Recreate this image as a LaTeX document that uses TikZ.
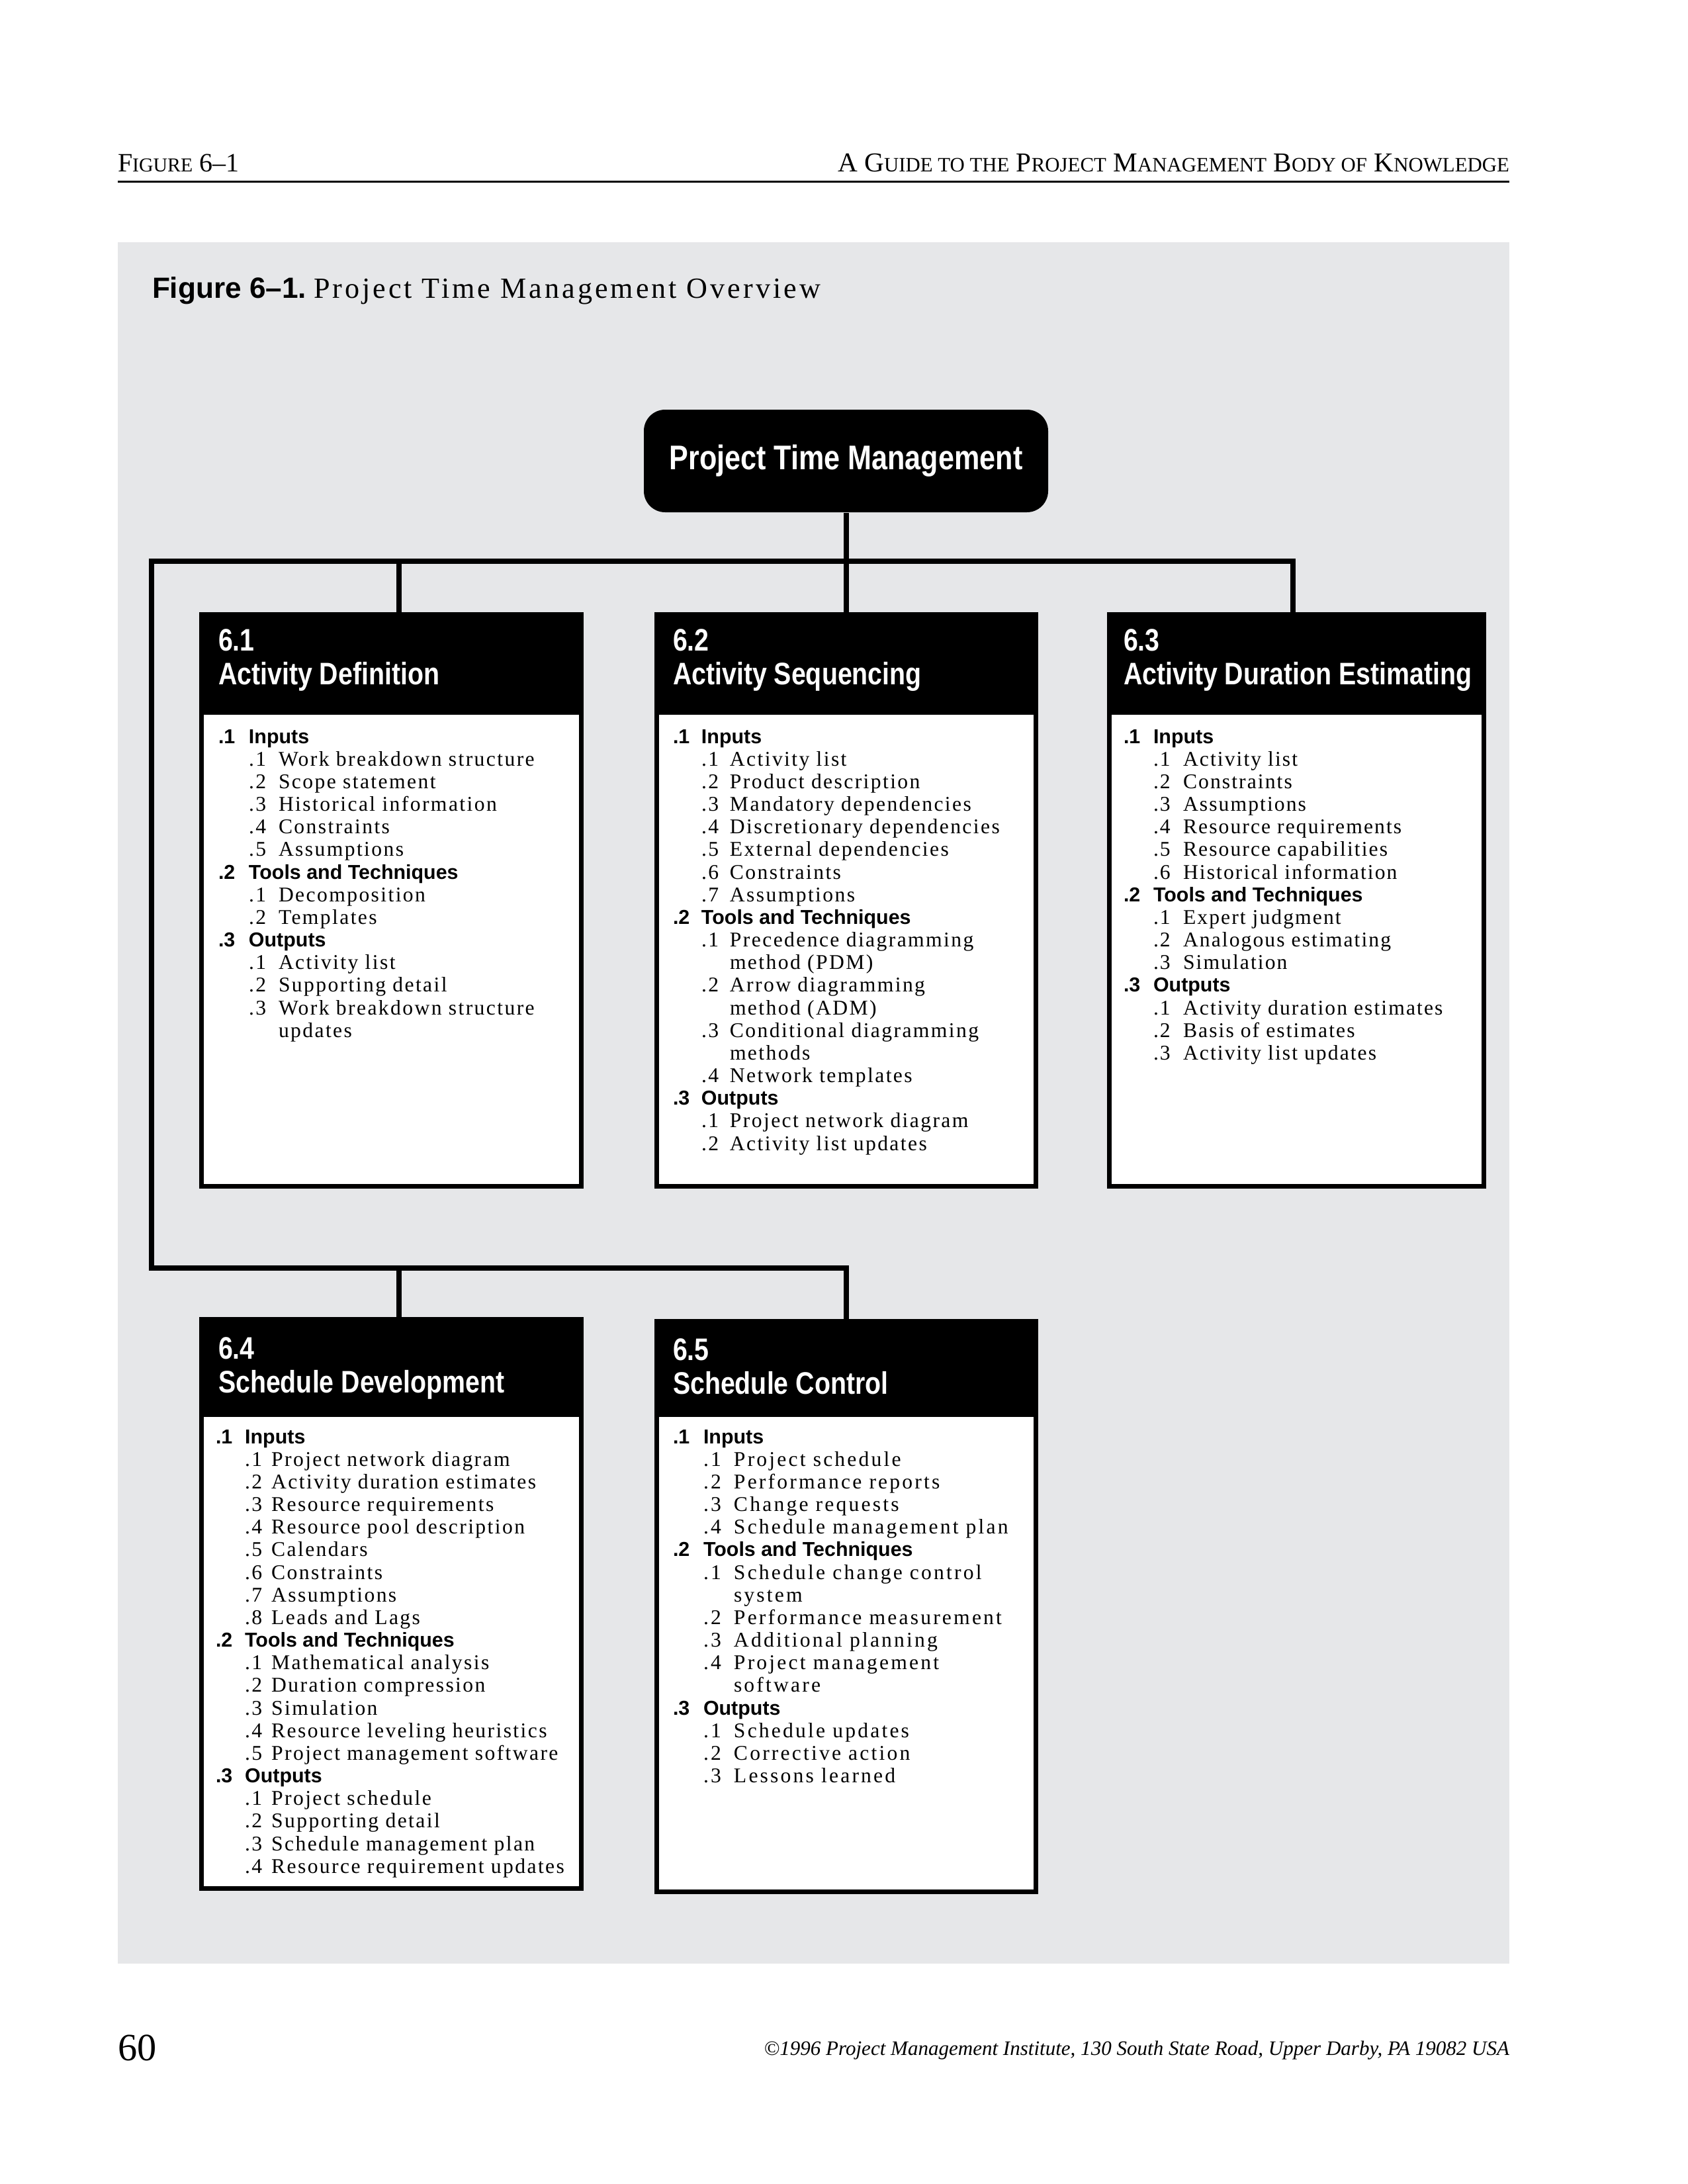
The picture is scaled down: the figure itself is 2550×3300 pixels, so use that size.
\documentclass[tikz,border=0pt]{standalone}
\usepackage{fontspec}
\setmainfont{Liberation Serif}
\setsansfont{Liberation Sans}
\newfontfamily\bodyfont[LetterSpace=7.5]{Liberation Serif}
\newfontfamily\widefont[LetterSpace=10]{Liberation Serif}
\newfontfamily\tightfont[LetterSpace=6.5]{Liberation Serif}
\newfontfamily\capfont[LetterSpace=9]{Liberation Serif}
\newfontfamily\condfont[FakeStretch=0.835]{Liberation Sans}
\definecolor{panel}{RGB}{230,231,233}
\newlength\offA \newlength\offB
\newcommand\HD[2]{\par\noindent{\sffamily\bfseries\fontsize{7.3pt}{8.2pt}\selectfont\makebox[\offA][l]{#1}#2}}
\newcommand\IT[2]{\par\noindent\hspace*{\offA}\makebox[\offB][l]{#1}#2}
\newcommand\CT[1]{\par\noindent\hspace*{\offA}\hspace*{\offB}#1}
\newcommand\bodysetup{\fontsize{7.6pt}{8.2pt}\selectfont\lineskiplimit=-\maxdimen\parskip=0pt\parindent=0pt}
\newcommand\boxbody[4][\bodyfont]{\begin{minipage}[t]{170pt}#1\bodysetup\setlength\offA{#2}\setlength\offB{#3}#4\end{minipage}}
\newcommand\titlebox[2]{\begin{minipage}[t]{170pt}\condfont\bfseries\fontsize{11.3pt}{12.24pt}\selectfont\lineskiplimit=-\maxdimen\parindent=0pt #1\par #2\end{minipage}}
\newcommand\SCb[1]{{\fontsize{9.6pt}{11pt}\selectfont #1}}
\newcommand\SCs[1]{{\fontsize{7.15pt}{9pt}\selectfont #1}}
\newcommand\SCB[1]{{\fontsize{9.9pt}{11pt}\selectfont #1}}
\newcommand\SCS[1]{{\fontsize{7.4pt}{9pt}\selectfont #1}}
\tikzset{
  conn/.style={line width=1.92pt, line join=miter},
  sbox/.style={draw, fill=white, line width=1.68pt, inner sep=0pt, outer sep=0pt, anchor=north west},
  txt/.style={inner sep=0pt, outer sep=0pt, anchor=base west},
  txtr/.style={inner sep=0pt, outer sep=0pt, anchor=base east},
  ttl/.style={txt, text=white},
}
\begin{document}
\begin{tikzpicture}[x=0.24pt,y=-0.24pt]
\useasboundingbox (0,0) rectangle (2550,3300);
% running head
\node[txt] (hl) at (178,259) {\SCb{F}\SCs{IGURE} \SCb{6–1}};
\node[txtr] (hr) at (2281,259) {\SCB{A} \SCB{G}\SCS{UIDE TO THE} \SCB{P}\SCS{ROJECT} \SCB{M}\SCS{ANAGEMENT} \SCB{B}\SCS{ODY OF} \SCB{K}\SCS{NOWLEDGE}};
\draw[line width=0.72pt] (178,274) -- (2281,274);
% panel
\fill[panel] (178,366) rectangle (2281,2967);
\node[txt, font=\sffamily\bfseries\fontsize{10.6pt}{12pt}\selectfont] (capA) at (230,450) {Figure 6–1.};
\node[txt, font=\capfont\fontsize{10.6pt}{12pt}\selectfont] (capB) at (474,450) {Project Time Management Overview};
% top box
\node[fill=black, rounded corners=7.7pt, minimum width=146.64pt, minimum height=37.2pt, inner sep=0pt, text=white,
      font=\condfont\bfseries\fontsize{12.4pt}{14pt}\selectfont] (ptm) at (1278.5,696.5) {Project Time Management};
% boxes
\node[sbox, minimum width=137.76pt, minimum height=207.36pt] (b61) at (304.5,928.5) {};
\node[sbox, minimum width=137.52pt, minimum height=207.36pt] (b62) at (992.5,928.5) {};
\node[sbox, minimum width=135.84pt, minimum height=207.36pt] (b63) at (1676.5,928.5) {};
\node[sbox, minimum width=137.76pt, minimum height=206.4pt] (b64) at (304.5,1993.5) {};
\node[sbox, minimum width=137.52pt, minimum height=206.88pt] (b65) at (992.5,1996.5) {};
\fill (301,925) rectangle (882,1080);
\fill (989,925) rectangle (1569,1080);
\fill (1673,925) rectangle (2246,1080);
\fill (301,1990) rectangle (882,2141);
\fill (989,1993) rectangle (1569,2141);
% connectors
\coordinate (jL) at (229,848);
\coordinate (j1) at (603,848);
\coordinate (jR) at (1954,848);
\coordinate (kL) at (229,1916);
\coordinate (k1) at (603,1916);
\coordinate (k2) at (1279,1916);
\draw[conn] (ptm.south) -- (ptm.south |- b62.north);
\draw[conn] (jR |- b63.north) -- (jR) -- (jL) -- (kL) -- (k2) -- (k2 |- b65.north);
\draw[conn] (j1) -- (j1 |- b61.north);
\draw[conn] (k1) -- (k1 |- b64.north);
% titles
\node[ttl] (t61) at (330,983) {\titlebox{6.1}{Activity Definition}};
\node[ttl] (t62) at (1017,983) {\titlebox{6.2}{Activity Sequencing}};
\node[ttl] (t63) at (1698,983) {\titlebox{6.3}{Activity Duration Estimating}};
\node[ttl] (t64) at (330,2053) {\titlebox{6.4}{Schedule Development}};
\node[ttl] (t65) at (1017,2055) {\titlebox{6.5}{Schedule Control}};
% bodies
\node[txt] (c61) at (330,1123) {\boxbody{11.04pt}{10.8pt}{%
\HD{.1}{Inputs}
\IT{.1}{Work breakdown structure}
\IT{.2}{Scope statement}
\IT{.3}{Historical information}
\IT{.4}{Constraints}
\IT{.5}{Assumptions}
\HD{.2}{Tools and Techniques}
\IT{.1}{Decomposition}
\IT{.2}{Templates}
\HD{.3}{Outputs}
\IT{.1}{Activity list}
\IT{.2}{Supporting detail}
\IT{.3}{Work breakdown structure}
\CT{updates}}};
\node[txt] (c62) at (1017,1123) {\boxbody{10.32pt}{10.32pt}{%
\HD{.1}{Inputs}
\IT{.1}{Activity list}
\IT{.2}{Product description}
\IT{.3}{Mandatory dependencies}
\IT{.4}{Discretionary dependencies}
\IT{.5}{External dependencies}
\IT{.6}{Constraints}
\IT{.7}{Assumptions}
\HD{.2}{Tools and Techniques}
\IT{.1}{Precedence diagramming}
\CT{method (PDM)}
\IT{.2}{Arrow diagramming}
\CT{method (ADM)}
\IT{.3}{Conditional diagramming}
\CT{methods}
\IT{.4}{Network templates}
\HD{.3}{Outputs}
\IT{.1}{Project network diagram}
\IT{.2}{Activity list updates}}};
\node[txt] (c63) at (1698,1123) {\boxbody[\tightfont]{10.8pt}{10.8pt}{%
\HD{.1}{Inputs}
\IT{.1}{Activity list}
\IT{.2}{Constraints}
\IT{.3}{Assumptions}
\IT{.4}{Resource requirements}
\IT{.5}{Resource capabilities}
\IT{.6}{Historical information}
\HD{.2}{Tools and Techniques}
\IT{.1}{Expert judgment}
\IT{.2}{Analogous estimating}
\IT{.3}{Simulation}
\HD{.3}{Outputs}
\IT{.1}{Activity duration estimates}
\IT{.2}{Basis of estimates}
\IT{.3}{Activity list updates}}};
\node[txt] (c64) at (326,2181) {\boxbody{10.6pt}{9.6pt}{%
\HD{.1}{Inputs}
\IT{.1}{Project network diagram}
\IT{.2}{Activity duration estimates}
\IT{.3}{Resource requirements}
\IT{.4}{Resource pool description}
\IT{.5}{Calendars}
\IT{.6}{Constraints}
\IT{.7}{Assumptions}
\IT{.8}{Leads and Lags}
\HD{.2}{Tools and Techniques}
\IT{.1}{Mathematical analysis}
\IT{.2}{Duration compression}
\IT{.3}{Simulation}
\IT{.4}{Resource leveling heuristics}
\IT{.5}{Project management software}
\HD{.3}{Outputs}
\IT{.1}{Project schedule}
\IT{.2}{Supporting detail}
\IT{.3}{Schedule management plan}
\IT{.4}{Resource requirement updates}}};
\node[txt] (c65) at (1017,2181) {\boxbody[\widefont]{11.04pt}{11.04pt}{%
\HD{.1}{Inputs}
\IT{.1}{Project schedule}
\IT{.2}{Performance reports}
\IT{.3}{Change requests}
\IT{.4}{Schedule management plan}
\HD{.2}{Tools and Techniques}
\IT{.1}{Schedule change control}
\CT{system}
\IT{.2}{Performance measurement}
\IT{.3}{Additional planning}
\IT{.4}{Project management}
\CT{software}
\HD{.3}{Outputs}
\IT{.1}{Schedule updates}
\IT{.2}{Corrective action}
\IT{.3}{Lessons learned}}};
% footer
\node[txt, font=\fontsize{14pt}{16pt}\selectfont] (pg) at (178,3113) {60};
\node[txtr, font=\itshape\fontsize{7.45pt}{9pt}\selectfont] (foot) at (2281,3105) {©1996 Project Management Institute, 130 South State Road, Upper Darby, PA 19082 USA};
\end{tikzpicture}
\end{document}
